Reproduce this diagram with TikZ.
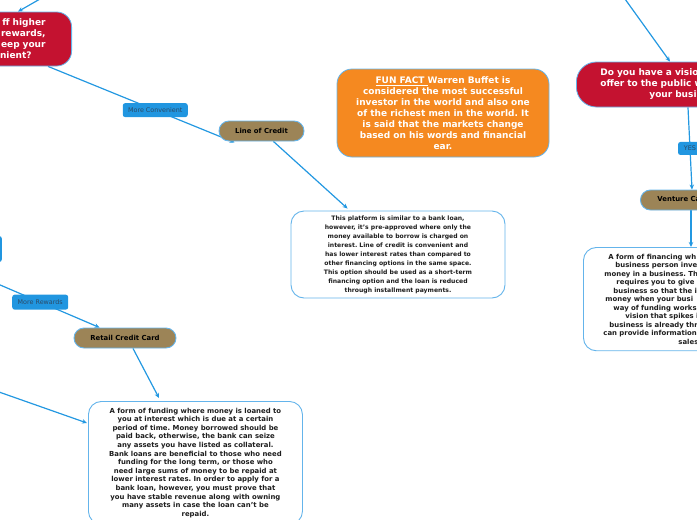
\documentclass[tikz,border=0pt]{standalone}
\usepackage{fontspec}
\setmainfont{DejaVu Sans}
\usepackage{xcolor}
\usepackage{tikz}
\usetikzlibrary{positioning,arrows.meta,calc,backgrounds}
\definecolor{linkblue}{HTML}{2398E1}
\definecolor{rimblue}{HTML}{64B4EB}
\definecolor{askred}{HTML}{C41230}
\definecolor{factorange}{HTML}{F58920}
\definecolor{topicbrown}{HTML}{9C8457}
\definecolor{tagblue}{HTML}{2196E0}
\definecolor{tagtext}{HTML}{2C4A66}
\definecolor{bodytext}{HTML}{1E1E1E}
\frenchspacing

\begin{document}
\begin{tikzpicture}[x=1pt, y=-1pt, >={Stealth[length=5pt,width=4.5pt]},
  link/.style={->, linkblue, line width=1.2pt},
  ask/.style={fill=askred, draw=rimblue, line width=0.8pt, rounded corners=15pt, text=white, font=\fontsize{9}{11}\selectfont\bfseries, minimum height=54pt},
  topic/.style={fill=topicbrown, draw=rimblue, line width=0.9pt, rounded corners=10pt, minimum height=20pt, inner ysep=0pt, font=\fontsize{6.9}{8.5}\selectfont\bfseries, text=black},
  note/.style={fill=white, draw=rimblue, line width=0.9pt, rounded corners=13pt, text=bodytext, align=center, minimum width=214pt},
  tag/.style={fill=tagblue, rounded corners=2.5pt, text=tagtext, font=\fontsize{6.4}{7}\selectfont, inner sep=0pt, minimum height=14pt}]
  \useasboundingbox (0,0) rectangle (697,520);
  \clip (0,0) rectangle (697,520);

  \node[ask, anchor=east, text width=80pt, inner xsep=26pt, align=right] (prefer) at (72,39)
    {ff higher\hspace*{4pt}\\rewards,\\eep your\hspace*{3pt}\\nient?\hspace*{14pt}};
  \node[ask, anchor=west, rounded corners=20pt, minimum height=45pt, text width=110pt, inner xsep=24pt, align=left] (vision) at (576,84.5)
    {Do you have a visio\\offer to the public w\\\hspace*{49pt}your busi};
  \node[ask, fill=factorange, minimum width=212pt, minimum height=88pt, align=center] (fact) at (443,113)
    {\underline{FUN FACT }Warren Buffet is\\considered the most successful\\investor in the world and also one\\of the richest men in the world. It\\is said that the markets change\\based on his words and financial\\ear.};

  \node[topic, minimum width=85pt] (credit) at (261.5,131) {Line of Credit};
  \node[topic, minimum width=102pt] (retail) at (125,338) {Retail Credit Card};
  \node[topic, anchor=west, text width=80pt, inner xsep=17pt, align=left] (venture) at (640,200) {Venture Capital};

  \node[note, minimum height=87pt, font=\fontsize{6.1}{9}\selectfont\bfseries] (platform) at (398,254.5)
    {This platform is similar to a bank loan,\\however, it's pre-approved where only the\\money available to borrow is charged on\\interest. Line of credit is convenient and\\has lower interest rates than compared to\\other financing options in the same space.\\This option should be used as a short-term\\financing option and the loan is reduced\\through installment payments.};
  \node[note, anchor=north west, inner ysep=6.5pt, font=\fontsize{6.9}{8.6}\selectfont\bfseries] (bank) at (88,401)
    {A form of funding where money is loaned to\\you at interest which is due at a certain\\period of time. Money borrowed should be\\paid back, otherwise, the bank can seize\\any assets you have listed as collateral.\\Bank loans are beneficial to those who need\\funding for the long term, or those who\\need large sums of money to be repaid at\\lower interest rates. In order to apply for a\\bank loan, however, you must prove that\\you have stable revenue along with owning\\many assets in case the loan can't be\\repaid.};
  \node[note, anchor=north west, text width=174pt, inner xsep=20pt, inner ysep=6.5pt, align=left, font=\fontsize{6.9}{8.5}\selectfont\bfseries] (venturenote) at (583,247)
    {\hspace*{5pt}A form of financing wh\\\hspace*{12pt}business person inve\\\hspace*{1pt}money in a business. Th\\\hspace*{13pt}requires you to give\\\hspace*{10pt}business so that the i\\\hspace*{2pt}money when your busi\\\hspace*{10pt}way of funding works\\\hspace*{22pt}vision that spikes in\\\hspace*{6pt}business is already thr\\can provide information\\\hspace*{75pt}sales};

  \node[tag, anchor=east, minimum width=30pt, minimum height=26pt] (offcut) at (2,249) {};

  \coordinate (feedA) at (40,-1);
  \coordinate (feedB) at (625,-1);
  \coordinate (feedC) at (-1,284.5);
  \coordinate (feedD) at (-1,392);

  \begin{pgfonlayer}{background}
  \draw[link] (feedA) -- ($(prefer.north east)+(-54,0)$);
  \draw[link] ($(prefer.south east)+(-24,0)$) -- node[tag, pos=0.575, minimum width=65pt] (convenient) {More Convenient} ($(credit.south west)+(16,1)$);
  \draw[link] ($(credit.south east)+(-31,0)$) -- ($(platform.north west)+(57,-2)$);
  \draw[link] (feedB) -- ($(vision.north west)+(94,0)$);
  \draw[link] ($(vision.south west)+(112,0)$) -- node[tag, minimum width=24pt, minimum height=13pt] (yes) {YES} ($(venture.north west)+(52,0)$);
  \draw[link] ($(venture.south west)+(51,0)$) -- ($(venturenote.north west)+(108,0)$);
  \draw[link] (feedC) -- node[tag, pos=0.41, minimum width=56pt, minimum height=15pt] (rewards) {More Rewards} ($(retail.north west)+(26,0)$);
  \draw[link] ($(retail.south)+(8,0)$) -- ($(bank.north west)+(71,-3)$);
  \draw[link] (feedD) -- ($(bank.north west)+(-1,22)$);
  \end{pgfonlayer}
\end{tikzpicture}
\end{document}
